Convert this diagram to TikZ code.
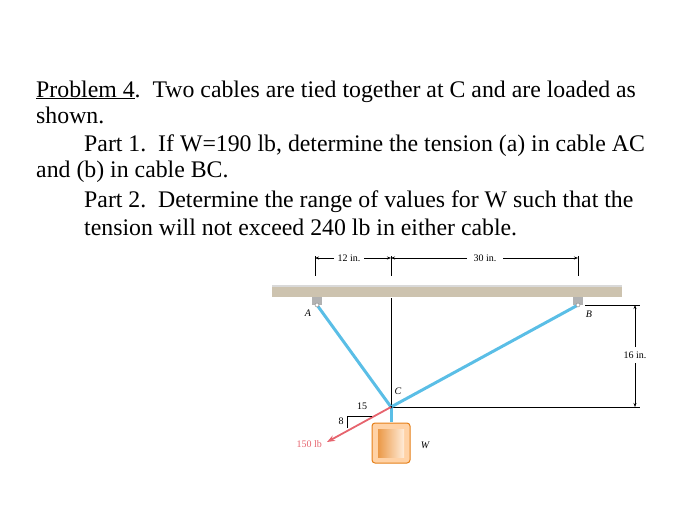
\documentclass[tikz,border=0pt]{standalone}
\usepackage{fontspec}
\setmainfont{Liberation Serif}
\usetikzlibrary{arrows.meta,calc}
\definecolor{cable}{RGB}{90,190,230}
\definecolor{force}{RGB}{230,100,110}
\definecolor{beam}{RGB}{205,195,175}
\begin{document}
\begin{tikzpicture}[x=1pt,y=-1pt,
  para/.style={anchor=base west,inner sep=0,font=\fontsize{23.8}{28}\selectfont},
  lbl/.style={inner sep=0,font=\fontsize{10}{11}\selectfont},
  dim/.style={black,line width=0.5pt},
  cab/.style={cable,line width=3pt}]
\useasboundingbox (0,0) rectangle (700,525);
\node[para] (t1) at (36,97) {\underline{Problem 4}.\ \ Two cables are tied together at C and are loaded as};
\node[para] (t2) at (36,123) {shown.};
\node[para] (t3) at (84,151) {Part 1.\ \ If W=190 lb, determine the tension (a) in cable AC};
\node[para] (t4) at (36,177) {and (b) in cable BC.};
\node[para] (t5) at (84,207) {Part 2.\ \ Determine the range of values for W such that the};
\node[para] (t6) at (84,235) {tension will not exceed 240 lb in either cable.};
% beam
\fill[beam] (272,285) rectangle (622,297);
\fill[black!15] (272,285) rectangle (622,287);
% supports
\coordinate (A) at (317,305);
\coordinate (B) at (578,305);
\coordinate (C) at (391,407);
\foreach \p in {A,B}{\fill[gray!60] ($(\p)+(-5,-8)$) rectangle ($(\p)+(5,0)$);}
% dims
\draw[dim] (315,256) -- (315,276);
\draw[dim] (391,256) -- (391,276);
\draw[dim] (578,256) -- (578,276);
\draw[dim] (391,298) -- (C);
\draw[dim,-{Stealth[length=4pt]}] (334,258) -- (315,258);
\draw[dim,-{Stealth[length=4pt]}] (364,258) -- (391,258);
\node[lbl] (d12) at (349,258) {12 in.};
\draw[dim,-{Stealth[length=4pt]}] (467,258) -- (391,258);
\draw[dim,-{Stealth[length=4pt]}] (503,258) -- (578,258);
\node[lbl] (d30) at (485,258) {30 in.};
\draw[dim] (585,305) -- (640,305);
\draw[dim] (C) -- (640,407);
\draw[dim,-{Stealth[length=4pt]}] (635,347) -- (635,305);
\draw[dim,-{Stealth[length=4pt]}] (635,363) -- (635,407);
\node[lbl] (d16) at (635,355) {16 in.};
% cables
\draw[cab] (A) -- (C);
\draw[cab] (B) -- (C);
\draw[cab] (C) -- (391,422);
\foreach \p in {A,B}{\fill[white] (\p) circle (2); \draw[gray] (\p) circle (2);}
\fill (C) circle (1.5);
% force
\draw[force,line width=1.8pt,-{Stealth[length=8pt]}] (C) -- (327,442);
\node[lbl,force,anchor=east] (f) at (322,444) {150 lb};
\draw[dim] (347,428) -- (347,416) -- (372,416);
\node[lbl] (n15) at (362,406) {15};
\node[lbl] (n8) at (341,421) {8};
% weight
\draw[rounded corners=3pt,fill=orange!35,draw=orange!60!brown,line width=1pt] (372,423) rectangle (410,463);
\shade[left color=orange!60!brown!80,right color=orange!15] (378,429) rectangle (404,457);
\node[lbl,font=\fontsize{10}{11}\selectfont\itshape] (W) at (425,445) {W};
\node[lbl,font=\fontsize{10}{11}\selectfont\itshape] (Cl) at (398,391) {C};
\node[lbl,font=\fontsize{10}{11}\selectfont\itshape] (Al) at (308,313) {A};
\node[lbl,font=\fontsize{10}{11}\selectfont\itshape] (Bl) at (589,314) {B};
\end{tikzpicture}
\end{document}
